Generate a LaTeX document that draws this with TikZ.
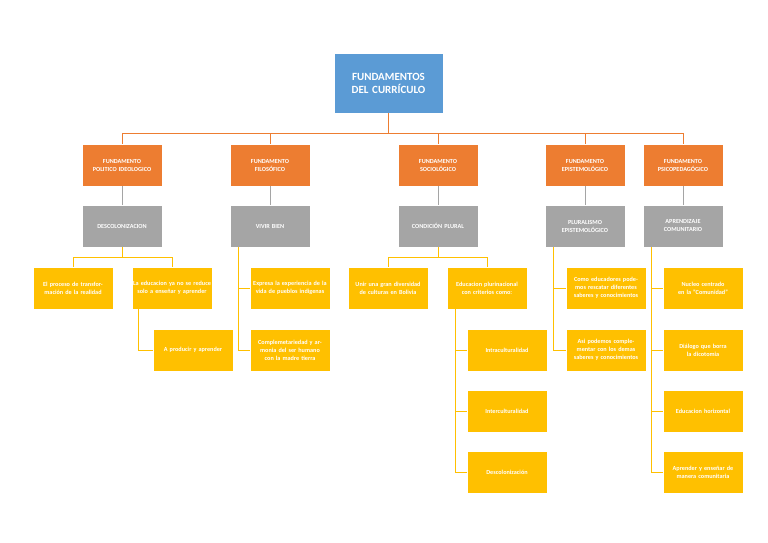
\documentclass[tikz,border=0pt]{standalone}
\usepackage{fontspec}
\setmainfont{Carlito}
\begin{document}
\begin{tikzpicture}[x=1pt,y=-1pt,
 box/.style={draw=white,line width=0.6pt,minimum width=80pt,minimum height=42pt,inner sep=1pt,align=center,text=white,font=\fontsize{6.2}{8}\selectfont\bfseries,text width=78pt},
 org/.style={box,fill=orange1},
 gry/.style={box,fill=gray1},
 yel/.style={box,fill=yellow1},
 ol/.style={draw=orange1,line width=0.8pt},
 gl/.style={draw=gray1,line width=0.8pt},
 yl/.style={draw=yellow1,line width=0.8pt}]
\definecolor{orange1}{HTML}{ED7D31}
\definecolor{gray1}{HTML}{A5A5A5}
\definecolor{yellow1}{HTML}{FFC000}
\definecolor{blue1}{HTML}{5B9BD5}
\useasboundingbox (0,0) rectangle (768,543);
\node[box,fill=blue1,minimum width=109pt,minimum height=60pt,text width=105pt,font=\fontsize{11}{13}\selectfont\bfseries] (root) at (388.5,83) {FUNDAMENTOS\\DEL CURRÍCULO};
\node[org] (o1) at (122,165) {FUNDAMENTO\\POLITICO IDEOLOGICO};
\node[org] (o2) at (270,165) {FUNDAMENTO\\FILOSÓFICO};
\node[org] (o3) at (438,165) {FUNDAMENTO\\SOCIOLÓGICO};
\node[org] (o4) at (585,165) {FUNDAMENTO\\EPISTEMOLÓGICO};
\node[org] (o5) at (683,165) {FUNDAMENTO\\PSICOPEDAGÓGICO};
\coordinate (hb) at (388.5,133);
\foreach \i in {1,...,5}{\draw[ol] (root.south) -- (hb) -| (o\i.north);}
\node[gry] (g1) at (122,226) {DESCOLONIZACION};
\node[gry] (g2) at (270,226) {VIVIR BIEN};
\node[gry] (g3) at (438,226) {CONDICIÓN PLURAL};
\node[gry] (g4) at (585,226) {PLURALISMO\\EPISTEMOLÓGICO};
\node[gry] (g5) at (683,226) {APRENDIZAJE\\COMUNITARIO};
\foreach \i in {1,...,5}{\draw[gl] (o\i) -- (g\i);}
% col1
\node[yel] (a1) at (73,288) {El proceso de transformación de la realidad};
\node[yel] (a2) at (172,288) {La educacion ya no se reduce solo a enseñar y aprender};
\node[yel] (a3) at (193,350) {A producir y aprender};
\coordinate (c1) at (122,257);
\draw[yl] (g1.south) -- (c1) -| (a1.north);
\draw[yl] (c1) -| (a2.north);
\draw[yl] (a2.south west) ++(7,0) coordinate (c1b) -- (c1b |- a3.west) -- (a3.west);
% col2
\node[yel] (b1) at (290,288) {Expresa la experiencia de la vida de pueblos indigenas};
\node[yel] (b2) at (290,350) {Complemetariedad y armonia del ser humano con la madre tierra};
\coordinate (c2) at (238,247);
\draw[yl] (c2) -- (c2 |- b2.west) -- (b2.west);
\draw[yl] (c2 |- b1.west) -- (b1.west);
% col3
\node[yel] (s1) at (388,288) {Unir una gran diversidad de culturas en Bolivia};
\node[yel] (s2) at (487,288) {Educacion plurinacional con criterios como:};
\node[yel] (s3) at (507,350) {Intraculturalidad};
\node[yel] (s4) at (507,411) {Interculturalidad};
\node[yel] (s5) at (507,472) {Descolonización};
\coordinate (c3) at (438,257);
\draw[yl] (g3.south) -- (c3) -| (s1.north);
\draw[yl] (c3) -| (s2.north);
\coordinate (c3b) at (455,309);
\draw[yl] (c3b) -- (c3b |- s5.west) -- (s5.west);
\draw[yl] (c3b |- s3.west) -- (s3.west);
\draw[yl] (c3b |- s4.west) -- (s4.west);
% col4
\node[yel] (e1) at (606,288) {Como educadores podemos rescatar diferentes saberes y conocimientos};
\node[yel] (e2) at (606,350) {Asi podemos complementar con los demas saberes y conocimientos};
\coordinate (c4) at (553,247);
\draw[yl] (c4) -- (c4 |- e2.west) -- (e2.west);
\draw[yl] (c4 |- e1.west) -- (e1.west);
% col5
\node[yel] (p1) at (703,288) {Nucleo centrado en la "Comunidad"};
\node[yel] (p2) at (703,350) {Diálogo que borra la dicotomia};
\node[yel] (p3) at (703,411) {Educacion horizontal};
\node[yel] (p4) at (703,472) {Aprender y enseñar de manera comunitaria};
\coordinate (c5) at (651,247);
\draw[yl] (c5) -- (c5 |- p4.west) -- (p4.west);
\foreach \n in {p1,p2,p3}{\draw[yl] (c5 |- \n.west) -- (\n.west);}
\end{tikzpicture}
\end{document}
